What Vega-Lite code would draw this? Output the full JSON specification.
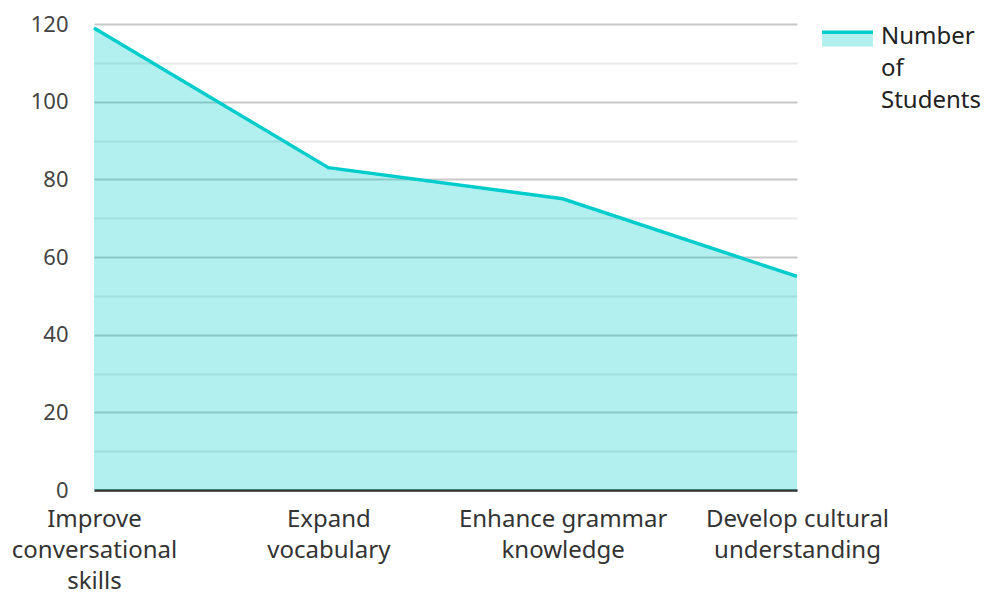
{
  "$schema": "https://vega.github.io/schema/vega-lite/v6.json",
  "width": 703,
  "height": 466,
  "autosize": "none",
  "padding": {"left": 94, "top": 24, "right": 189, "bottom": 104},
  "background": "#ffffff",
  "config": {
    "font": "Noto Sans",
    "view": {"stroke": null},
    "style": {"guide-label": {"lineHeight": 32}}
  },
  "data": {
    "values": [
      {"goal": "Improve conversational skills", "students": 119, "series": "Number of Students"},
      {"goal": "Expand vocabulary", "students": 83, "series": "Number of Students"},
      {"goal": "Enhance grammar knowledge", "students": 75, "series": "Number of Students"},
      {"goal": "Develop cultural understanding", "students": 55, "series": "Number of Students"}
    ]
  },
  "encoding": {
    "x": {
      "field": "goal",
      "type": "nominal",
      "sort": null,
      "scale": {"type": "point", "padding": 0},
      "axis": {
        "title": null,
        "labelAngle": 0,
        "labelFontSize": 24,
        "labelColor": "#333333",
        "labelPadding": 17,
        "labelLineHeight": 31,
        "labelLimit": 400,
        "ticks": false,
        "grid": false,
        "domainColor": "#333333",
        "domainWidth": 2.5,
        "labelExpr": "datum.value == 'Improve conversational skills' ? ['Improve', 'conversational', 'skills'] : datum.value == 'Expand vocabulary' ? ['Expand', 'vocabulary'] : datum.value == 'Enhance grammar knowledge' ? ['Enhance grammar', 'knowledge'] : ['Develop cultural', 'understanding']"
      }
    },
    "y": {
      "field": "students",
      "type": "quantitative",
      "scale": {"domain": [0, 120], "nice": false, "zero": true},
      "axis": {
        "title": null,
        "values": [0, 10, 20, 30, 40, 50, 60, 70, 80, 90, 100, 110, 120],
        "labelExpr": "datum.value % 20 === 0 ? datum.label : ''",
        "labelFontSize": 22,
        "labelColor": "#444444",
        "labelPadding": 26,
        "ticks": false,
        "domain": false,
        "gridColor": {"condition": {"test": "datum.value % 20 === 0", "value": "#c8c8c8"}, "value": "#e8e8e8"},
        "gridWidth": 2
      }
    }
  },
  "layer": [
    {
      "mark": {"type": "area", "opacity": 0.3, "color": "#00CCCC"}
    },
    {
      "mark": {"type": "line", "strokeWidth": 3.5},
      "encoding": {
        "color": {
          "field": "series",
          "type": "nominal",
          "scale": {"range": ["#00CCCC"]},
          "legend": {
            "title": null,
            "orient": "none",
            "legendX": 726,
            "legendY": -27,
            "symbolType": "M-1,0.3L1,0.3L1,0.86L-1,0.86Z",
            "symbolSize": 2601,
            "symbolStrokeWidth": 3.5,
            "symbolFillColor": "#b2efef",
            "symbolDash": [51, 400],
            "symbolOpacity": 1,
            "labelFontSize": 24,
            "labelColor": "#222222",
            "labelExpr": "split(datum.label, ' ')",
            "labelBaseline": "top",
            "labelOffset": 6,
            "labelLimit": 200
          }
        }
      }
    }
  ]
}
